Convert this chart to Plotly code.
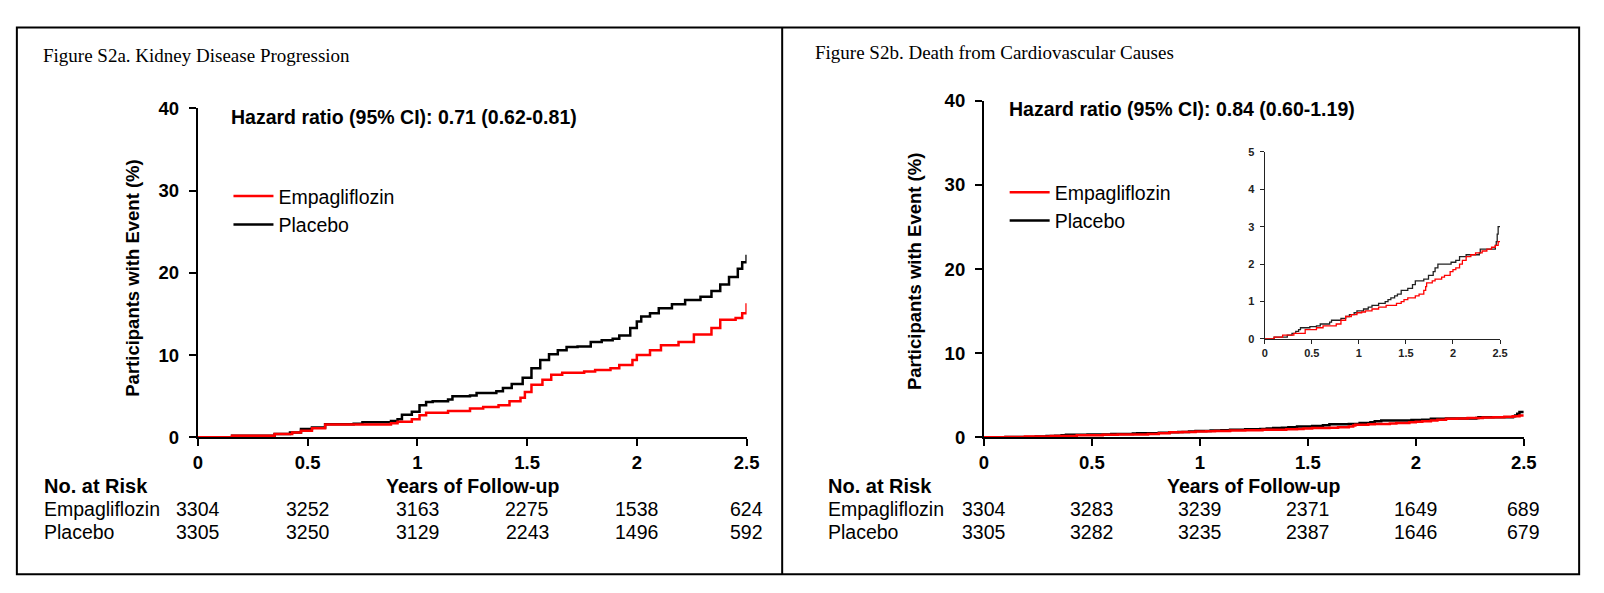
import plotly.graph_objects as go

W, H = 1604, 593

# ---------------- data ----------------
years_ticks = [0, 0.5, 1, 1.5, 2, 2.5]
kd_risk_empa = [3304, 3252, 3163, 2275, 1538, 624]
kd_risk_plac = [3305, 3250, 3129, 2243, 1496, 592]
cv_risk_empa = [3304, 3283, 3239, 2371, 1649, 689]
cv_risk_plac = [3305, 3282, 3235, 2387, 1646, 679]

kd_plac_t = [0, 0.156, 0.35, 0.42, 0.47, 0.52, 0.58, 0.71, 0.75, 0.88, 0.91, 0.93, 0.975, 1.01, 1.04,
             1.07, 1.14, 1.16, 1.24, 1.27, 1.36, 1.39, 1.43, 1.48, 1.52, 1.56, 1.60, 1.64, 1.68, 1.73,
             1.79, 1.84, 1.89, 1.92, 1.97, 2.0, 2.02, 2.06, 2.10, 2.16, 2.22, 2.29, 2.34, 2.38, 2.42,
             2.46, 2.48, 2.5]
kd_plac_y = [0, 0.2, 0.4, 0.6, 1.0, 1.2, 1.6, 1.65, 1.85, 2.0, 2.2, 2.75, 3.1, 3.9, 4.3,
             4.4, 4.6, 5.0, 5.1, 5.4, 5.6, 6.0, 6.5, 7.25, 8.4, 9.4, 10.1, 10.6, 11.0, 11.05,
             11.6, 11.8, 12.0, 12.4, 13.3, 14.1, 14.7, 15.1, 15.7, 16.2, 16.7, 17.1, 17.8, 18.6, 19.5,
             20.5, 21.3, 22.2]

kd_empa_t = [0, 0.156, 0.35, 0.43, 0.47, 0.52, 0.58, 0.88, 0.91, 0.975, 1.01, 1.04, 1.14, 1.24, 1.30,
             1.37, 1.42, 1.47, 1.49, 1.52, 1.57, 1.61, 1.66, 1.76, 1.81, 1.88, 1.92, 1.98, 2.0, 2.06,
             2.11, 2.19, 2.26, 2.34, 2.38, 2.45, 2.48, 2.5]
kd_empa_y = [0, 0.2, 0.4, 0.6, 0.8, 1.1, 1.55, 1.7, 1.9, 2.2, 2.7, 3.0, 3.2, 3.5, 3.7,
             3.9, 4.4, 4.8, 5.5, 6.4, 7.0, 7.6, 7.85, 8.0, 8.2, 8.4, 8.8, 9.4, 10.0, 10.6,
             11.2, 11.6, 12.5, 13.3, 14.3, 14.5, 15.1, 16.3]

cv_plac_t = [0, 0.1, 0.24, 0.29, 0.33, 0.36, 0.38, 0.48, 0.55, 0.59, 0.69, 0.71, 0.81, 0.86, 0.9,
             0.95, 0.98, 1.05, 1.10, 1.14, 1.21, 1.28, 1.31, 1.34, 1.38, 1.41, 1.45, 1.52, 1.57, 1.60,
             1.69, 1.74, 1.79, 1.81, 1.84, 1.98, 2.03, 2.07, 2.14, 2.28, 2.29, 2.45, 2.46, 2.47, 2.48, 2.5]
cv_plac_y = [0, 0.05, 0.1, 0.15, 0.2, 0.25, 0.3, 0.33, 0.35, 0.4, 0.45, 0.5, 0.55, 0.6, 0.65,
             0.7, 0.75, 0.8, 0.85, 0.9, 0.95, 1.0, 1.05, 1.1, 1.15, 1.2, 1.3, 1.35, 1.45, 1.55,
             1.6, 1.7, 1.8, 1.9, 2.0, 2.05, 2.1, 2.2, 2.25, 2.3, 2.4, 2.5, 2.6, 2.8, 3.0, 3.0]

cv_empa_t = [0, 0.1, 0.19, 0.31, 0.43, 0.55, 0.62, 0.76, 0.81, 0.86, 0.92, 0.98, 1.03, 1.07, 1.14,
             1.21, 1.29, 1.40, 1.45, 1.48, 1.52, 1.60, 1.64, 1.69, 1.71, 1.72, 1.78, 1.81, 1.88, 1.91,
             1.97, 2.0, 2.03, 2.07, 2.10, 2.14, 2.19, 2.24, 2.31, 2.36, 2.41, 2.45, 2.48, 2.5]
cv_empa_y = [0, 0.05, 0.1, 0.15, 0.25, 0.3, 0.35, 0.4, 0.5, 0.6, 0.65, 0.7, 0.72, 0.75, 0.8,
             0.85, 0.9, 0.95, 1.0, 1.05, 1.1, 1.15, 1.2, 1.3, 1.4, 1.5, 1.55, 1.6, 1.65, 1.7,
             1.8, 1.85, 1.9, 2.0, 2.1, 2.2, 2.25, 2.3, 2.35, 2.4, 2.45, 2.5, 2.6, 2.6]

main_y_ticks = [0, 10, 20, 30, 40]
inset_y_ticks = [0, 1, 2, 3, 4, 5]

# ---------------- helpers ----------------
def px(x):
    return x / W

def py(y):
    return (H - y) / H

SANS = "Liberation Sans, Arial, sans-serif"
SERIF = "Liberation Serif, Times New Roman, serif"
RED = "#ff0000"
BLACK = "#000000"

fig = go.Figure()

# left panel
fig.add_trace(go.Scatter(x=kd_plac_t, y=kd_plac_y, mode="lines", line=dict(color=BLACK, width=2.5, shape="hv"),
                         name="Placebo", xaxis="x", yaxis="y", legend="legend", legendrank=2))
fig.add_trace(go.Scatter(x=kd_empa_t, y=kd_empa_y, mode="lines", line=dict(color=RED, width=2.5, shape="hv"),
                         name="Empagliflozin", xaxis="x", yaxis="y", legend="legend", legendrank=1))
# right panel
fig.add_trace(go.Scatter(x=cv_plac_t, y=cv_plac_y, mode="lines", line=dict(color=BLACK, width=2.5, shape="hv"),
                         name="Placebo", xaxis="x2", yaxis="y2", legend="legend2", legendrank=2))
fig.add_trace(go.Scatter(x=cv_empa_t, y=cv_empa_y, mode="lines", line=dict(color=RED, width=2.5, shape="hv"),
                         name="Empagliflozin", xaxis="x2", yaxis="y2", legend="legend2", legendrank=1))
# inset
fig.add_trace(go.Scatter(x=cv_plac_t, y=cv_plac_y, mode="lines", line=dict(color="#222222", width=1.3, shape="hv"),
                         name="Placebo", xaxis="x3", yaxis="y3", showlegend=False))
fig.add_trace(go.Scatter(x=cv_empa_t, y=cv_empa_y, mode="lines", line=dict(color=RED, width=1.3, shape="hv"),
                         name="Empagliflozin", xaxis="x3", yaxis="y3", showlegend=False))

tickfont = dict(family=SANS, size=18.5, color=BLACK, weight="bold")
common_x = dict(range=[0, 2.5], tickvals=years_ticks, ticktext=[f"{v:g}" for v in years_ticks],
                showline=True, linecolor=BLACK, linewidth=2, ticks="outside", ticklen=7, tickwidth=2,
                tickcolor=BLACK, showgrid=False, zeroline=False, tickfont=tickfont, fixedrange=True)
common_y = dict(range=[0, 40], tickvals=main_y_ticks, showline=True, linecolor=BLACK, linewidth=2,
                ticks="outside", ticklen=7, tickwidth=2, tickcolor=BLACK, showgrid=False, zeroline=False,
                tickfont=tickfont, ticklabelstandoff=6, fixedrange=True)

legend_common = dict(font=dict(family=SANS, size=19.5, color=BLACK), bgcolor="rgba(0,0,0,0)",
                     xanchor="left", yanchor="top", tracegroupgap=0, itemwidth=40)

fig.update_layout(
    width=W, height=H, margin=dict(l=0, r=0, t=0, b=0),
    paper_bgcolor="white", plot_bgcolor="white",
    xaxis=dict(domain=[px(195), px(750)], anchor="y", **common_x),
    yaxis=dict(domain=[py(442), py(101)], anchor="x", **common_y),
    xaxis2=dict(domain=[px(990), px(1536)], anchor="y2", **common_x),
    yaxis2=dict(domain=[py(442), py(93)], anchor="x2", **common_y),
    xaxis3=dict(domain=[px(1274), px(1512)], anchor="y3", range=[0, 2.5], tickvals=years_ticks,
                ticktext=[f"{v:g}" for v in years_ticks], showline=True, linecolor="#222222", linewidth=1.3,
                ticks="outside", ticklen=4, tickwidth=1.3, tickcolor="#222222", showgrid=False, zeroline=False,
                tickfont=dict(family=SANS, size=11, color="#222222", weight="bold"), fixedrange=True),
    yaxis3=dict(domain=[py(340), py(146)], anchor="x3", range=[0, 5], tickvals=inset_y_ticks,
                showline=True, linecolor="#222222", linewidth=1.3, ticks="outside", ticklen=4, tickwidth=1.3,
                tickcolor="#222222", showgrid=False, zeroline=False,
                tickfont=dict(family=SANS, size=11, color="#222222", weight="bold"), ticklabelstandoff=3,
                fixedrange=True),
    legend=dict(x=px(226), y=py(172), **legend_common),
    legend2=dict(x=px(1011), y=py(168), **legend_common),
    showlegend=True,
)

annotations = []
def txt(x, y, text, size=17, bold=False, family=SANS, xanchor="left", xref="paper", angle=0):
    annotations.append(dict(x=x, y=y, xref=xref, yref="paper", text=text, showarrow=False,
                            xanchor=xanchor, yanchor="middle", textangle=angle,
                            font=dict(family=family, size=size, color=BLACK,
                                      weight="bold" if bold else "normal")))

# titles
txt(px(36), py(46), "Figure S2a. Kidney Disease Progression", size=19, family=SERIF)
txt(px(817), py(43), "Figure S2b. Death from Cardiovascular Causes", size=19, family=SERIF)
# hazard ratios
txt(px(227), py(110), "Hazard ratio (95% CI): 0.71 (0.62-0.81)", size=19.5, bold=True)
txt(px(1013), py(102), "Hazard ratio (95% CI): 0.84 (0.60-1.19)", size=19.5, bold=True)
# y titles
txt(px(129), py(277), "Participants with Event (%)", size=18.5, bold=True, xanchor="center", angle=-90)
txt(px(920), py(270), "Participants with Event (%)", size=18.5, bold=True, xanchor="center", angle=-90)

# risk tables
for xref, xlab, risk_e, risk_p in [("x", 37, kd_risk_empa, kd_risk_plac), ("x2", 830, cv_risk_empa, cv_risk_plac)]:
    txt(px(xlab), py(492), "No. at Risk", size=20, bold=True)
    txt(1.25, py(492), "Years of Follow-up", size=19.5, bold=True, xanchor="center", xref=xref)
    txt(px(xlab), py(516), "Empagliflozin", size=19.5)
    txt(px(xlab), py(540), "Placebo", size=19.5)
    for t, e, p in zip(years_ticks, risk_e, risk_p):
        txt(t, py(516), str(e), size=19.5, xanchor="center", xref=xref)
        txt(t, py(540), str(p), size=19.5, xanchor="center", xref=xref)

fig.update_layout(annotations=annotations)

# frames
shapes = [
    dict(type="rect", xref="paper", yref="paper", x0=px(12), x1=px(1592), y0=py(584), y1=py(17),
         line=dict(color=BLACK, width=2)),
    dict(type="line", xref="paper", yref="paper", x0=px(786), x1=px(786), y0=py(584), y1=py(17),
         line=dict(color=BLACK, width=2)),
]
fig.update_layout(shapes=shapes)

fig.write_html("out.html", config={"displayModeBar": False},
               post_script="document.body.style.margin='0';document.documentElement.style.overflow='hidden';")
